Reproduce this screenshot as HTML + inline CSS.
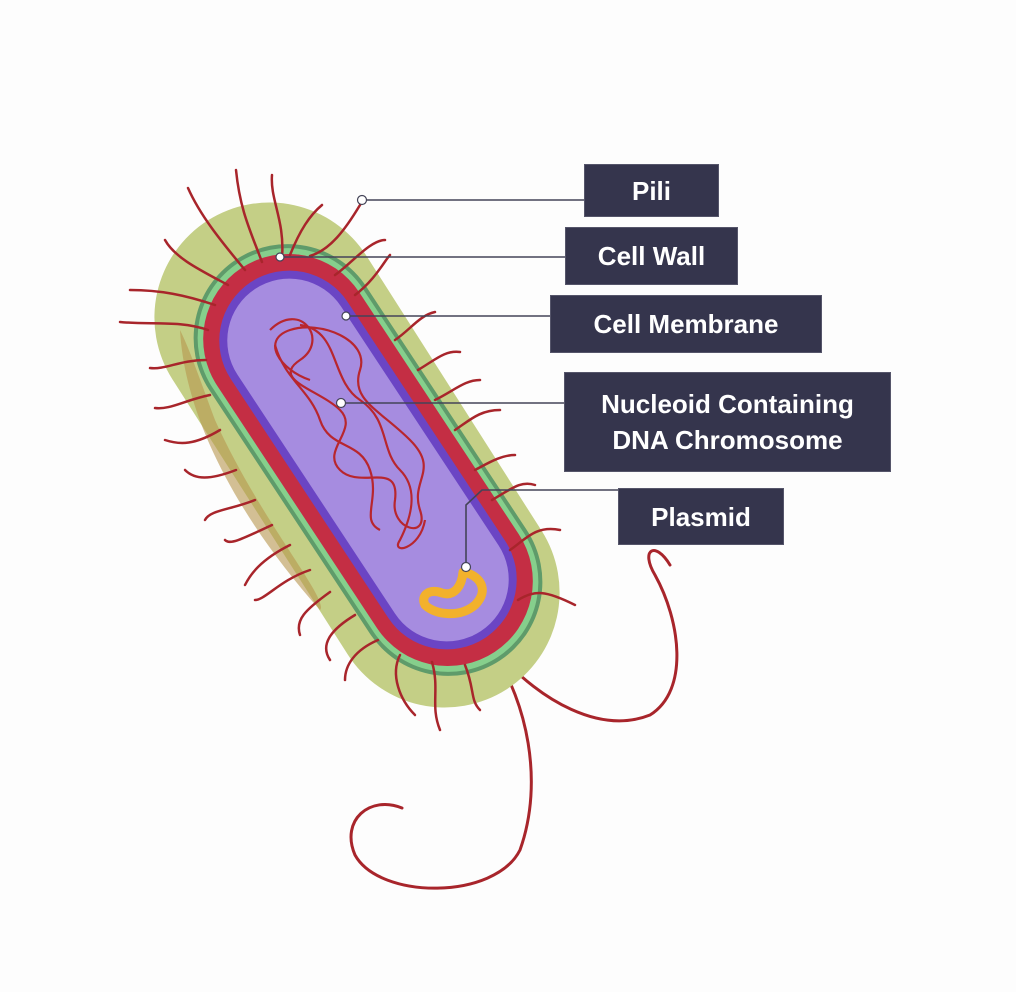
<!DOCTYPE html>
<html><head><meta charset="utf-8"><style>
html,body{margin:0;padding:0;background:#fdfdfd;}
.box{position:absolute;background:#35354d;color:#fff;font-family:"Liberation Sans",sans-serif;font-weight:bold;font-size:26px;text-align:center;box-shadow:0 0 0 1px #55556a;line-height:32px;display:flex;align-items:center;justify-content:center;}
</style></head><body>
<div style="position:relative;width:1016px;height:992px;overflow:hidden;">
<svg width="1016" height="992" style="position:absolute;left:0;top:0">
<g fill="none" stroke="#a8252b" stroke-width="3" stroke-linecap="round">
<path d="M495,655 C525,700 545,780 520,850 C495,900 380,900 355,855 C340,820 370,795 402,808"/>
<path d="M500,655 C540,700 600,735 650,715 C690,690 680,620 655,575 C640,550 655,540 670,565"/>
</g>
<g transform="rotate(57.5 357 455)">
<rect x="79" y="340" width="556" height="230" rx="115" fill="#c4cf86"/>
</g>
<path d="M180,330 C185,420 240,520 320,610 C330,600 260,520 215,420 C200,380 190,350 180,330Z" fill="#b8964f" opacity="0.6"/>
<g transform="rotate(56.6 368 460)">
<rect x="128" y="366" width="480" height="188" rx="94" fill="#5f9b6a"/>
<rect x="132" y="370" width="472" height="180" rx="90" fill="#86cf8c"/>
<rect x="138" y="375" width="460" height="170" rx="85" fill="#c42e44"/>
<rect x="155" y="390" width="426" height="140" rx="70" fill="#6b45c4"/>
<rect x="163" y="398" width="410" height="124" rx="62" fill="#a68ce0"/>
</g>
<g fill="none" stroke="#a8252b" stroke-width="2.5" stroke-linecap="round">
<path d="M282,258 C285,220 270,200 272,175"/>
<path d="M290,255 C300,230 310,215 322,205"/>
<path d="M262,262 C250,230 240,210 236,170"/>
<path d="M245,270 C220,240 200,215 188,188"/>
<path d="M228,285 C200,270 175,258 165,240"/>
<path d="M215,305 C185,295 160,290 130,290"/>
<path d="M208,330 C180,320 150,325 120,322"/>
<path d="M206,360 C180,360 165,370 150,368"/>
<path d="M210,395 C185,400 170,410 155,408"/>
<path d="M220,430 C195,445 180,445 165,440"/>
<path d="M236,470 C210,480 195,480 185,470"/>
<path d="M255,500 C230,510 210,510 205,520"/>
<path d="M272,525 C240,540 230,545 225,540"/>
<path d="M290,545 C260,560 250,575 245,585"/>
<path d="M310,570 C280,580 265,600 255,600"/>
<path d="M330,592 C305,610 295,620 300,635"/>
<path d="M355,615 C330,630 320,645 330,660"/>
<path d="M378,640 C355,650 345,665 345,680"/>
<path d="M400,655 C390,675 400,700 415,715"/>
<path d="M432,662 C440,690 430,705 440,730"/>
<path d="M465,665 C475,690 470,700 480,710"/>
<path d="M310,256 C330,250 345,230 360,205"/>
<path d="M335,275 C350,265 370,240 385,240"/>
<path d="M355,295 C375,280 385,260 390,255"/>
<path d="M395,340 C410,330 420,315 435,312"/>
<path d="M418,370 C435,360 445,350 460,352"/>
<path d="M435,400 C455,390 465,380 480,380"/>
<path d="M455,430 C470,420 480,410 500,410"/>
<path d="M475,470 C485,465 500,455 515,455"/>
<path d="M492,500 C510,490 520,480 535,485"/>
<path d="M510,550 C525,540 535,525 560,530"/>
<path d="M518,600 C535,590 545,590 575,605"/>
</g>
<g fill="none" stroke="#b8262e" stroke-width="2.2">
<path d="M270,330 C300,300 330,340 300,360 C270,380 320,390 340,410 C360,430 320,450 340,470 C360,490 400,460 395,500 C390,530 430,540 420,510 C410,480 440,470 410,440 C380,410 350,400 360,370 C370,340 320,320 290,330 C260,340 280,370 310,380"/>
<path d="M300,325 C340,330 330,380 360,400 C390,420 380,450 400,470 C420,490 410,520 400,540 C390,555 420,550 425,520"/>
<path d="M275,345 C285,380 310,390 320,420 C330,450 360,440 370,470 C380,500 360,520 380,530"/>
</g>
<path d="M463,572 C480,575 490,590 475,605 C460,618 435,615 425,605 C420,595 430,588 442,593 C455,597 462,585 463,572Z" fill="none" stroke="#f2b12c" stroke-width="9" stroke-linejoin="round"/>
<g stroke="#444458" stroke-width="1.6" fill="none">
<line x1="362" y1="200" x2="585" y2="200"/>
<line x1="280" y1="257" x2="566" y2="257"/>
<line x1="346" y1="316" x2="551" y2="316"/>
<line x1="341" y1="403" x2="565" y2="403"/>
<path d="M466,566 L466,505 L482,490 L619,490"/>
</g>
<g fill="#fff" stroke="#444458" stroke-width="1.2">
<circle cx="362" cy="200" r="4.5"/>
<circle cx="280" cy="257" r="4"/>
<circle cx="346" cy="316" r="4"/>
<circle cx="341" cy="403" r="4.5"/>
<circle cx="466" cy="567" r="4.5"/>
</g>
</svg>
<div class="box" style="left:585px;top:165px;width:133px;height:51px;">Pili</div>
<div class="box" style="left:566px;top:228px;width:171px;height:56px;">Cell Wall</div>
<div class="box" style="left:551px;top:296px;width:270px;height:56px;">Cell Membrane</div>
<div class="box" style="left:565px;top:373px;width:325px;height:98px;line-height:36px;">Nucleoid Containing<br>DNA Chromosome</div>
<div class="box" style="left:619px;top:489px;width:164px;height:55px;">Plasmid</div>
</div>
</body></html>
